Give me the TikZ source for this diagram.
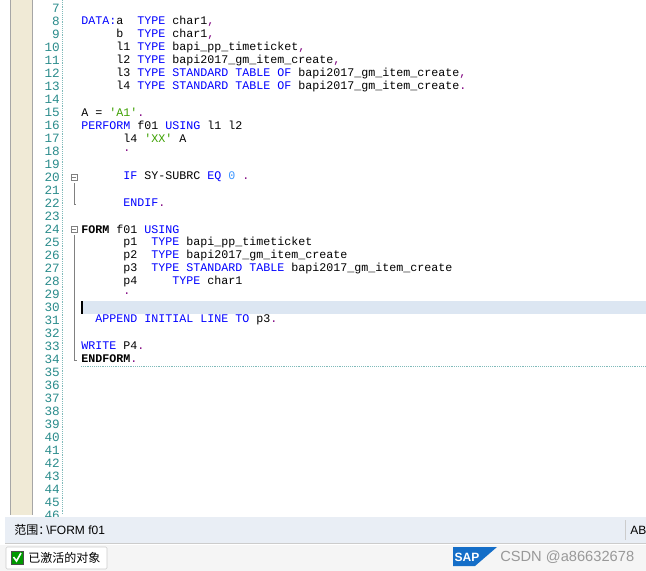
\documentclass[tikz,border=0pt]{standalone}
\usepackage{fontspec}
\setmonofont{Liberation Mono}
\newfontfamily\cjk{Noto Sans CJK SC}
\newfontfamily\sansf{Liberation Sans}
\definecolor{kw}{RGB}{0,0,255}
\definecolor{pu}{RGB}{128,0,128}
\definecolor{gr}{RGB}{60,160,0}
\definecolor{ln}{RGB}{43,140,140}
\definecolor{num}{RGB}{60,150,255}
\definecolor{beige}{RGB}{240,234,214}
\definecolor{hl}{RGB}{220,230,242}
\definecolor{bar}{RGB}{233,238,245}
\definecolor{sapblue}{RGB}{20,110,200}
\newcommand{\K}[1]{\textcolor{kw}{#1}}
\newcommand{\Pu}[1]{\textcolor{pu}{#1}}
\newcommand{\G}[1]{\textcolor{gr}{#1}}
\tikzset{x=0.75pt,y=-0.75pt,
 code/.style={anchor=west,inner sep=0,font=\ttfamily\fontsize{8.75}{10}\selectfont},
 lnum/.style={anchor=east,inner sep=0,text=ln,font=\ttfamily\fontsize{9.5}{10}\selectfont},
 fold/.style={draw=gray,line width=0.6pt}}
\begin{document}
\begin{tikzpicture}
\useasboundingbox (0,0) rectangle (646,571);
\fill[white] (0,0) rectangle (646,571);
\fill[beige] (10,0) rectangle (32,515);
\draw[gray!70] (10,0) -- (10,515) (32,0) -- (32,515);
\draw[ln!60,densely dotted] (62,0) -- (62,515);
\fill[hl] (82,301) rectangle (646,314);
\draw[line width=1.5pt] (82,301) -- (82,314);
\foreach \n in {7,...,46} \node[lnum] (n\n) at (60,{8+(\n-7)*13}) {\n};
\newcommand{\cl}[2]{\node[code] (l#1) at (81,{8+(#1-7)*13}) {#2};}
\cl{8}{\K{DATA:}a~~\K{TYPE}~char1\Pu{,}}
\cl{9}{~~~~~b~~\K{TYPE}~char1\Pu{,}}
\cl{10}{~~~~~l1~\K{TYPE}~bapi\_pp\_timeticket\Pu{,}}
\cl{11}{~~~~~l2~\K{TYPE}~bapi2017\_gm\_item\_create\Pu{,}}
\cl{12}{~~~~~l3~\K{TYPE}~\K{STANDARD}~\K{TABLE}~\K{OF}~bapi2017\_gm\_item\_create\Pu{,}}
\cl{13}{~~~~~l4~\K{TYPE}~\K{STANDARD}~\K{TABLE}~\K{OF}~bapi2017\_gm\_item\_create\Pu{.}}
\cl{15}{A~=~\G{'A1'}\Pu{.}}
\cl{16}{\K{PERFORM}~f01~\K{USING}~l1~l2}
\cl{17}{~~~~~~l4~\G{'XX'}~A}
\cl{18}{~~~~~~\Pu{.}}
\cl{20}{~~~~~~\K{IF}~SY-SUBRC~\K{EQ}~\textcolor{num}{0}~\Pu{.}}
\cl{22}{~~~~~~\K{ENDIF}\Pu{.}}
\cl{24}{\textbf{FORM}~f01~\K{USING}}
\cl{25}{~~~~~~p1~~\K{TYPE}~bapi\_pp\_timeticket}
\cl{26}{~~~~~~p2~~\K{TYPE}~bapi2017\_gm\_item\_create}
\cl{27}{~~~~~~p3~~\K{TYPE}~\K{STANDARD}~\K{TABLE}~bapi2017\_gm\_item\_create}
\cl{28}{~~~~~~p4~~~~~\K{TYPE}~char1}
\cl{29}{~~~~~~\Pu{.}}
\cl{31}{~~\K{APPEND}~\K{INITIAL}~\K{LINE}~\K{TO}~p3\Pu{.}}
\cl{33}{\K{WRITE}~P4\Pu{.}}
\cl{34}{\textbf{ENDFORM}\Pu{.}}
\draw[ln!60,densely dotted] (81,366) -- (646,366);
% fold markers
\draw[fold,fill=white] (71,174) rectangle (77,180);
\draw[fold] (72,177) -- (76,177);
\draw[fold] (74,183) -- (74,204) -- (76,204);
\draw[fold,fill=white] (71,226) rectangle (77,232);
\draw[fold] (72,229) -- (76,229);
\draw[fold] (74,235) -- (74,360) -- (77,360);
% status bar
\fill[bar] (5,517) rectangle (646,543);
\draw[gray!40] (5,543) -- (646,543) (625,520) -- (625,540);
\node[anchor=west,inner sep=0,font=\cjk\fontsize{9}{10}\selectfont] (scope) at (14,530) {范围：};
\node[anchor=west,inner sep=0,font=\sansf\fontsize{9}{10}\selectfont] (scopev) at (46,530) {\textbackslash FORM f01};
\node[anchor=west,inner sep=0,font=\sansf\fontsize{9}{10}\selectfont] (ab) at (630,530) {AB};
% bottom bar
\fill[gray!8] (0,545) rectangle (646,571);
\draw[gray!40,fill=white,rounded corners=1pt] (6,547) rectangle (107,569);
\draw[black!70,fill=green!60!black] (11,551) rectangle (23,564);
\draw[white,line width=1.2pt] (13.5,557) -- (16.5,561) -- (21,553);
\node[anchor=west,inner sep=0,font=\cjk\fontsize{9}{10}\selectfont] (act) at (28,558) {已激活的对象};
\fill[sapblue] (453,547) -- (497,547) -- (475,566) -- (453,566) -- cycle;
\node[inner sep=0,text=white,font=\sansf\bfseries\fontsize{9}{10}\selectfont] (sap) at (467,557) {SAP};
\node[anchor=west,inner sep=0,text=gray!80,font=\sansf\fontsize{11}{12}\selectfont] (csdn) at (500,557) {CSDN @a86632678};
\end{tikzpicture}
\end{document}
